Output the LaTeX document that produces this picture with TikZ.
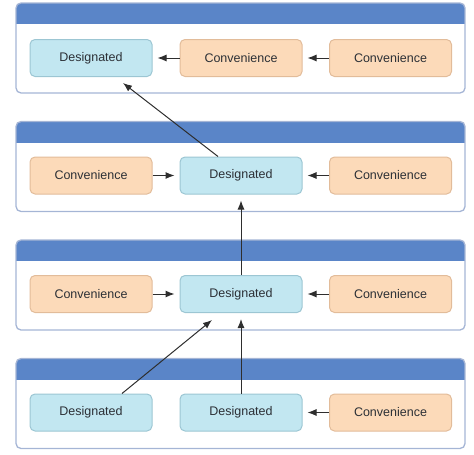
\documentclass[tikz,border=0pt]{standalone}
\usepackage{fontspec}
\setmainfont{Liberation Sans}
\usetikzlibrary{arrows.meta}

\definecolor{hdrblue}{HTML}{5A85C8}
\definecolor{panelline}{HTML}{A5B5D5}
\definecolor{desigfill}{HTML}{C2E7F1}
\definecolor{desigline}{HTML}{9CC6D3}
\definecolor{convfill}{HTML}{FCDAB9}
\definecolor{convline}{HTML}{E2BC9A}
\definecolor{txtgray}{HTML}{2C3036}
\definecolor{arrowgray}{HTML}{2E2E2E}

\tikzset{
  panel/.style={draw=panelline, line width=1.3pt, rounded corners=5pt},
  desig/.style={draw=desigline, line width=1pt, fill=desigfill, rounded corners=5pt,
    minimum width=122pt, minimum height=37pt, inner sep=0pt, text=txtgray,
    font=\fontsize{12.5}{14}\selectfont},
  conv/.style={desig, draw=convline, fill=convfill},
  link/.style={draw=arrowgray, line width=1pt, -{Latex[length=9pt,width=7pt]}},
  side/.style={link, shorten >=5pt},
}

\begin{document}
\begin{tikzpicture}[x=1pt, y=-1pt]
    \useasboundingbox (0,0) rectangle (474,455);

    % Class 1 (top)
    \begin{scope}
        \begin{scope}
            \clip[rounded corners=5pt] (16,3) rectangle (465,93);
            \fill[hdrblue] (16,3) rectangle (465,24);
        \end{scope}
        \draw[panel] (16,3) rectangle (465,93);
        \node[desig] (desA) at (91,58) {Designated};
        \node[conv] (conA1) at (241,58) {Convenience};
        \node[conv] (conA2) at (390.5,58) {Convenience};
    \end{scope}

    % Class 2
    \begin{scope}[yshift=-118.5pt]
        \begin{scope}
            \clip[rounded corners=5pt] (16,3) rectangle (465,93);
            \fill[hdrblue] (16,3) rectangle (465,24);
        \end{scope}
        \draw[panel] (16,3) rectangle (465,93);
        \node[conv] (conB1) at (91,57) {Convenience};
        \node[desig] (desB) at (241,57) {Designated};
        \node[conv] (conB2) at (390.5,57) {Convenience};
    \end{scope}

    % Class 3
    \begin{scope}[yshift=-237pt]
        \begin{scope}
            \clip[rounded corners=5pt] (16,3) rectangle (465,93);
            \fill[hdrblue] (16,3) rectangle (465,24);
        \end{scope}
        \draw[panel] (16,3) rectangle (465,93);
        \node[conv] (conC1) at (91,57) {Convenience};
        \node[desig] (desC) at (241,57) {Designated};
        \node[conv] (conC2) at (390.5,57) {Convenience};
    \end{scope}

    % Class 4 (bottom)
    \begin{scope}[yshift=-355.5pt]
        \begin{scope}
            \clip[rounded corners=5pt] (16,3) rectangle (465,93);
            \fill[hdrblue] (16,3) rectangle (465,24);
        \end{scope}
        \draw[panel] (16,3) rectangle (465,93);
        \node[desig] (desD1) at (91,57) {Designated};
        \node[desig] (desD2) at (241,57) {Designated};
        \node[conv] (conD) at (390.5,57) {Convenience};
    \end{scope}

    % calls inside each class
    \draw[side] (conA1.west) -- (desA.east);
    \draw[side] (conA2.west) -- (conA1.east);
    \draw[side] (conB1.east) -- (desB.west);
    \draw[side] (conB2.west) -- (desB.east);
    \draw[side] (conC1.east) -- (desC.west);
    \draw[side] (conC2.west) -- (desC.east);
    \draw[side] (conD.west) -- (desD2.east);

    % calls up to the superclass
    \draw[link] ([xshift=-23pt]desB.north) -- ([xshift=32pt,yshift=-6pt]desA.south);
    \draw[link] (desC.north) -- ([yshift=-6pt]desB.south);
    \draw[link] ([xshift=31pt]desD1.north) -- ([xshift=-29pt,yshift=-7pt]desC.south);
    \draw[link] (desD2.north) -- ([yshift=-6pt]desC.south);

\end{tikzpicture}
\end{document}
